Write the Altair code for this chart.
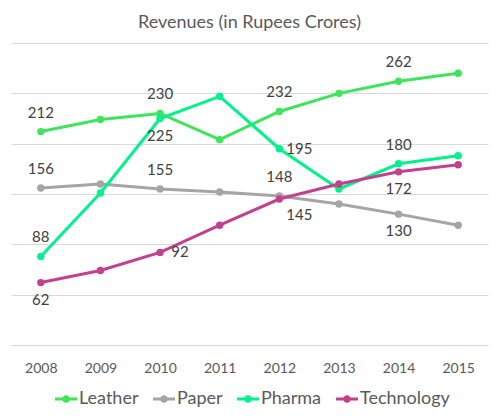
import altair as alt
import pandas as pd

years = ["2008", "2009", "2010", "2011", "2012", "2013", "2014", "2015"]
leather = [212, 224, 230, 204, 232, 250, 262, 270]
paper = [156, 160, 155, 152, 148, 140, 130, 119]
pharma = [88, 151, 225, 247, 195, 155, 180, 188]
technology = [62, 74, 92, 119, 145, 160, 172, 179]

series_names = ["Leather", "Paper", "Pharma", "Technology"]
series_colors = ["#3ee55a", "#a5a5a5", "#00f28a", "#c2408e"]

# data labels only sit on every other year
label_years = ["2008", "2010", "2012", "2014"]
label_place = {
    "Leather": ["above", "above", "above", "above"],
    "Paper": ["above", "above", "above", "below"],
    "Pharma": ["above", "below", "right", "above"],
    "Technology": ["below", "right", "belowright", "below"],
}
offsets = {
    "above": (0, -19),
    "below": (0, 17),
    "right": (20, 0),
    "belowright": (20, 16),
}

rows = []
for name, vals in zip(series_names, [leather, paper, pharma, technology]):
    for yr, v in zip(years, vals):
        place = None
        if yr in label_years:
            place = label_place[name][label_years.index(yr)]
        rows.append({"year": yr, "series": name, "value": v, "place": place})
df = pd.DataFrame(rows)

# line with a dot in the middle, like the Excel legend keys
legend_key = (
    "M-1,-0.13L1,-0.13L1,0.13L-1,0.13Z "
    "M-0.35,0A0.35,0.35 0 1,1 0.35,0A0.35,0.35 0 1,1 -0.35,0Z"
)

color = alt.Color(
    "series:N",
    scale=alt.Scale(domain=series_names, range=series_colors),
    legend=alt.Legend(
        title=None,
        orient="none",
        direction="horizontal",
        legendX=44,
        legendY=345,
        padding=0,
        columnPadding=14,
        labelFontSize=18,
        labelColor="#595959",
        labelOffset=2,
        symbolType=legend_key,
        symbolSize=484,
        symbolStrokeWidth=0,
    ),
)

base = alt.Chart(df).encode(
    x=alt.X(
        "year:O",
        axis=alt.Axis(
            title=None, labelAngle=0, ticks=False, domain=False, grid=False,
            labelPadding=16, labelFontSize=14, labelColor="#595959",
        ),
    ),
    y=alt.Y(
        "value:Q",
        scale=alt.Scale(domain=[0, 300], nice=False),
        axis=alt.Axis(
            title=None, labels=False, ticks=False, domain=False,
            values=[0, 50, 100, 150, 200, 250, 300],
            gridColor="#d9d9d9", gridWidth=1,
        ),
    ),
    color=color,
)

lines = base.mark_line(strokeWidth=3)
points = base.mark_circle(size=55, opacity=1)

label_layers = []
for place, (dx, dy) in offsets.items():
    label_layers.append(
        base.transform_filter(alt.datum.place == place)
        .mark_text(dx=dx, dy=dy, fontSize=15, color="#404040", align="center", baseline="middle")
        .encode(text="value:Q", color=alt.value("#404040"))
    )

chart = alt.layer(lines, points, *label_layers).properties(
    width=477,
    height=302,
    padding={"left": 3, "top": 35, "right": 4, "bottom": 67},
    autosize=alt.AutoSizeParams(type="none"),
    title=alt.Title(
        "Revenues (in Rupees Crores)",
        fontSize=18, fontWeight="normal", color="#595959", offset=11,
    ),
).configure(
    font="Lato",
).configure_view(
    stroke=None,
)

chart.save("out.html", embed_options={"renderer": "svg", "actions": False})
